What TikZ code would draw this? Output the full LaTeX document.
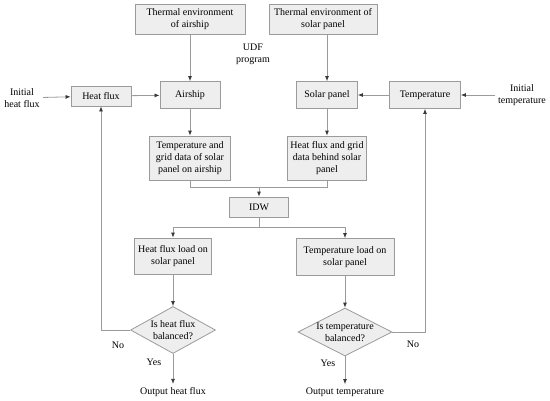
\documentclass[tikz,border=0pt]{standalone}
\usepackage{fontspec}
\setmainfont{Liberation Serif}
\usepackage{tikz}
\usetikzlibrary{shapes.geometric,arrows.meta}

\definecolor{boxfill}{RGB}{238,238,238}
\definecolor{linegray}{RGB}{155,155,155}
\definecolor{tipgray}{RGB}{55,55,55}

\tikzset{
  box/.style={draw=linegray,fill=boxfill,line width=0.8pt,align=center,inner sep=1pt},
  decision/.style={diamond,draw=linegray,fill=boxfill,line width=0.8pt,inner sep=0pt},
  plain/.style={align=center},
  conn/.style={draw=linegray,line width=0.8pt},
  arr/.style={conn,-{Latex[length=5pt,width=4pt,color=tipgray]}}
}

\begin{document}
\begin{tikzpicture}[x=1pt,y=-1pt,font=\fontsize{10}{12}\selectfont]
\useasboundingbox (0,0) rectangle (550,400);

\node[box,minimum width=110pt,minimum height=30pt] (te1) at (190,19) {Thermal environment\\of airship};
\node[box,minimum width=108pt,minimum height=30pt] (te2) at (323,19) {Thermal environment of\\solar panel};
\node[plain] (udf) at (253,54) {UDF\\program};

\node[plain] (inhf) at (22,98) {Initial\\heat flux};
\node[box,minimum width=60pt,minimum height=20pt] (hf) at (101,96) {Heat flux};
\node[box,minimum width=60pt,minimum height=27pt] (air) at (190,95) {Airship};
\node[box,minimum width=61pt,minimum height=27pt] (sp) at (327,95) {Solar panel};
\node[box,minimum width=71pt,minimum height=27pt] (temp) at (425,95) {Temperature};
\node[plain] (intemp) at (522,95) {Initial\\temperature};

\node[box,minimum width=81pt,minimum height=44pt] (tgd) at (190,158) {Temperature and\\grid data of solar\\panel on airship};
\node[box,minimum width=79pt,minimum height=44pt] (hfgd) at (327,158) {Heat flux and grid\\data behind solar\\panel};

\coordinate (join) at (259,187);
\node[box,minimum width=59pt,minimum height=20pt] (idw) at (259,207) {IDW};
\coordinate (split) at (259,227);

\node[box,minimum width=77pt,minimum height=36pt] (hfl) at (173,256) {Heat flux load on\\solar panel};
\node[box,minimum width=98pt,minimum height=37pt] (tl) at (345,257) {Temperature load on\\solar panel};

\node[decision,minimum width=85pt,minimum height=47pt] (d1) at (173,330) {};
\node[plain] (d1txt) at (d1) {Is heat flux\\balanced?};
\node[decision,minimum width=94pt,minimum height=48pt] (d2) at (345,332) {};
\node[plain] (d2txt) at (d2) {Is temperature\\balanced?};

\node (no1) at (118,345) {No};
\node (no2) at (413,344) {No};
\node (yes1) at (154,362) {Yes};
\node (yes2) at (328,363) {Yes};

\node (out1) at (173,392) {Output heat flux};
\node (out2) at (345,392) {Output temperature};

\draw[arr] (inhf) -- (hf);
\draw[arr] (hf) -- (air);
\draw[arr] (te1) -- (air);
\draw[arr] (air) -- (tgd);
\draw[arr] (te2.south -| sp) -- (sp);
\draw[arr] (intemp) -- (temp);
\draw[arr] (temp) -- (sp);
\draw[arr] (sp) -- (hfgd);

\draw[conn] (tgd) |- (join);
\draw[conn] (hfgd) |- (join);
\draw[arr] (join) -- (idw);
\draw[conn] (idw) -- (split);
\draw[arr] (split) -| (hfl);
\draw[arr] (split) -| (tl);

\draw[arr] (hfl) -- (d1);
\draw[arr] (tl) -- (d2);
\draw[arr] (d1.west) -| (hf.south);
\draw[arr] (d2.east) -| (temp.south);
\draw[arr] (d1.south) -- (out1);
\draw[arr] (d2.south) -- (out2);
\end{tikzpicture}
\end{document}
